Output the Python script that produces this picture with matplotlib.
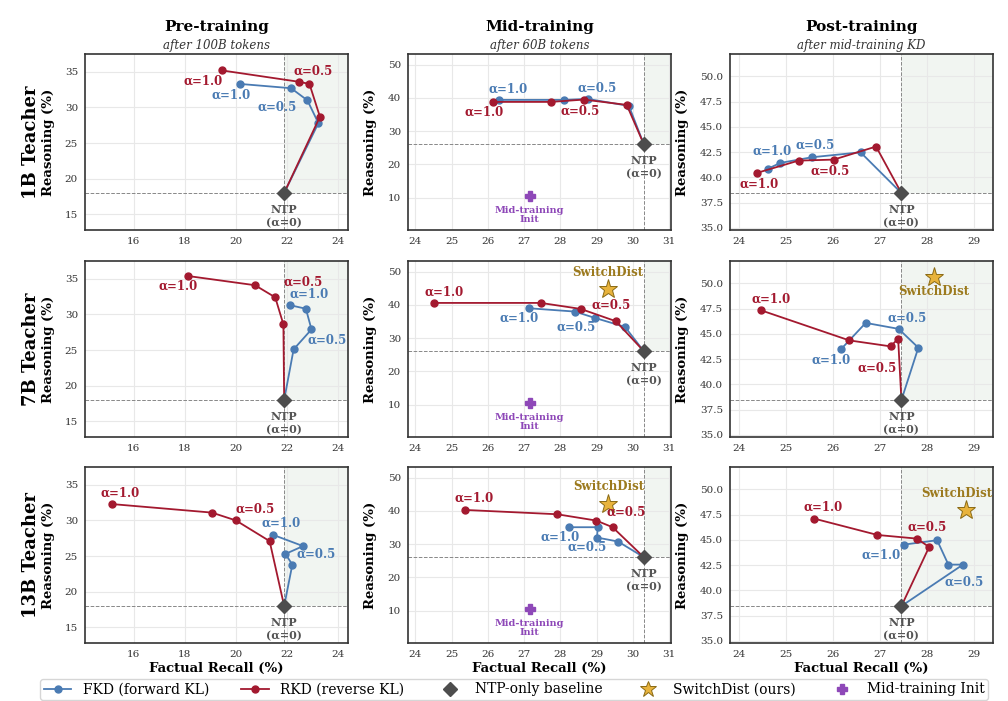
import matplotlib
matplotlib.use('Agg')
import matplotlib.pyplot as plt
from matplotlib.lines import Line2D

plt.rcParams['font.family'] = ['DejaVu Serif']

# --- data -------------------------------------------------------------
stages = ['Pre-training', 'Mid-training', 'Post-training']
stage_subs = ['after 100B tokens', 'after 60B tokens', 'after mid-training KD']
teachers = ['1B Teacher', '7B Teacher', '13B Teacher']

# NTP-only baseline per stage (factual recall, reasoning)
ntp_x = [21.9, 30.3, 27.45]
ntp_y = [18.0, 26.1, 38.45]

# mid-training init (shown only in mid-training column)
init_x = 27.15
init_y = 10.5

# fkd_x[teacher][stage]
fkd_x = [
    [[20.17, 22.17, 22.81, 23.24], [26.31, 28.11, 28.75, 29.89], [24.60, 24.87, 25.54, 26.58]],
    [[22.13, 22.75, 22.97, 22.27], [27.13, 28.40, 28.95, 29.78], [26.16, 26.69, 27.39, 27.81]],
    [[21.45, 22.64, 21.95, 22.22], [28.23, 29.03, 29.01, 29.59], [27.51, 28.21, 28.45, 28.76]],
]
fkd_y = [
    [[33.3, 32.7, 31.0, 27.8], [39.4, 39.4, 39.7, 37.6], [40.84, 41.43, 41.99, 42.48]],
    [[31.3, 30.8, 27.9, 25.1], [39.0, 38.0, 36.1, 33.4], [43.46, 46.08, 45.49, 43.63]],
    [[28.0, 26.4, 25.3, 23.8], [35.1, 35.1, 32.0, 30.8], [44.53, 44.96, 42.55, 42.55]],
]
rkd_x = [
    [[19.45, 22.48, 22.89, 23.30], [26.14, 27.74, 28.65, 29.83], [24.37, 25.26, 26.01, 26.91]],
    [[18.12, 20.76, 21.55, 21.87], [24.53, 27.46, 28.56, 29.53], [24.47, 26.34, 27.22, 27.38]],
    [[15.15, 19.07, 20.01, 21.33], [25.36, 27.91, 28.99, 29.44], [25.59, 26.94, 27.78, 28.04]],
]
rkd_y = [
    [[35.2, 33.6, 33.3, 28.7], [38.8, 38.8, 39.5, 37.9], [40.44, 41.66, 41.76, 43.05]],
    [[35.4, 34.1, 32.4, 28.6], [40.6, 40.6, 38.8, 35.1], [47.31, 44.35, 43.76, 44.52]],
    [[32.3, 31.1, 30.0, 27.1], [40.3, 39.0, 37.1, 35.1], [47.10, 45.48, 45.12, 44.29]],
]

# SwitchDist points (teacher, stage) -> (x, y)
switch_pts = {(1, 1): (29.30, 44.8), (1, 2): (28.15, 50.63),
              (2, 1): (29.32, 42.18), (2, 2): (28.83, 47.99)}

# --- annotation placement (data coords) -------------------------------
fkd_lab = [
    [[(19.84, 31.77), (21.63, 29.99)], [(26.56, 42.6), (29.0, 43.0)], [(24.70, 42.55), (25.61, 43.18)]],
    [[(22.87, 32.85), (23.59, 26.35)], [(26.87, 36.0), (28.43, 33.2)], [(25.96, 42.4), (27.58, 46.58)]],
    [[(21.80, 29.58), (23.15, 25.31)], [(27.98, 32.14), (28.75, 28.95)], [(27.01, 43.5), (28.79, 40.77)]],
]
rkd_lab = [
    [[(18.73, 33.74), (23.02, 35.04)], [(25.89, 35.8), (28.54, 36.0)], [(24.43, 39.36), (25.94, 40.64)]],
    [[(17.75, 33.9), (22.63, 34.5)], [(24.79, 43.9), (29.41, 39.8)], [(24.67, 48.4), (26.94, 41.6)]],
    [[(15.49, 33.88), (20.76, 31.54)], [(25.63, 43.77), (29.82, 39.56)], [(25.79, 48.25), (27.99, 46.21)]],
]
switch_lab = {(1, 1): (29.30, 49.6), (1, 2): (28.15, 49.2),
              (2, 1): (29.34, 47.2), (2, 2): (28.63, 49.57)}

xlims = [(14.1, 24.4), (23.8, 31.05), (23.8, 29.4)]
ylims = [(12.8, 37.5), (0.3, 53.2), (34.8, 52.2)]
xticks = [[16, 18, 20, 22, 24], list(range(24, 32)), list(range(24, 30))]
yticks = [[15, 20, 25, 30, 35], [10, 20, 30, 40, 50], [35.0, 37.5, 40.0, 42.5, 45.0, 47.5, 50.0]]

BLUE = '#4a7bb3'
RED = '#a3192f'
GRAY = '#4d4d4d'
GOLD = '#e8b33c'
GOLD_TXT = '#9c7a1e'
PURPLE = '#8e48b8'
SHADE = '#f1f5f1'

fig = plt.figure(figsize=(10.08, 7.01), dpi=100)
W, H = 1008, 701
lefts = [85, 408, 730]
tops = [54, 261, 467]
aw, ah = 263, 176

for r in range(3):
    for c in range(3):
        ax = fig.add_axes([lefts[c] / W, 1 - (tops[r] + ah) / H, aw / W, ah / H])
        x0, x1 = xlims[c]
        y0, y1 = ylims[c]
        ax.set_xlim(x0, x1)
        ax.set_ylim(y0, y1)
        ax.set_xticks(xticks[c])
        ax.set_yticks(yticks[c])
        if c == 2:
            ax.set_yticklabels(['%.1f' % v for v in yticks[c]])
        ax.grid(True, color='#e8e8e8', lw=0.8, zorder=0)
        ax.set_axisbelow(True)
        ax.tick_params(length=0, pad=5, labelsize=7.5, colors='#333333')
        for s in ax.spines.values():
            s.set_color('#333333')
            s.set_linewidth(1.2)

        nx, ny = ntp_x[c], ntp_y[c]
        ax.fill_between([nx, x1], ny, y1, color=SHADE, zorder=0.5, lw=0)
        ax.axhline(ny, color='#888888', ls='--', lw=0.7, zorder=1)
        ax.axvline(nx, color='#888888', ls='--', lw=0.7, zorder=1)

        fx = fkd_x[r][c] + [nx]
        fy = fkd_y[r][c] + [ny]
        rx = rkd_x[r][c] + [nx]
        ry = rkd_y[r][c] + [ny]
        n = len(fkd_x[r][c])
        ax.plot(fx, fy, '-o', color=BLUE, lw=1.3, ms=5, markevery=list(range(n)), zorder=3)
        ax.plot(rx, ry, '-o', color=RED, lw=1.3, ms=5, markevery=list(range(len(rkd_x[r][c]))), zorder=3)

        ax.plot([nx], [ny], 'D', color=GRAY, ms=7, zorder=5)
        ax.annotate('NTP\n(\u03b1=0)', (nx, ny), xytext=(0, -8), textcoords='offset points',
                    ha='center', va='top', fontsize=8, fontweight='bold', color='#555555',
                    linespacing=1.2, zorder=6)

        for (tx, ty), lab in zip(fkd_lab[r][c], ['\u03b1=1.0', '\u03b1=0.5']):
            ax.text(tx, ty, lab, color=BLUE, fontsize=8.5, fontweight='bold',
                    ha='center', va='center', zorder=6)
        for (tx, ty), lab in zip(rkd_lab[r][c], ['\u03b1=1.0', '\u03b1=0.5']):
            ax.text(tx, ty, lab, color=RED, fontsize=8.5, fontweight='bold',
                    ha='center', va='center', zorder=6)

        if c == 1:
            ax.plot([init_x], [init_y], 'P', color=PURPLE, ms=7, zorder=5)
            ax.annotate('Mid-training\nInit', (init_x, init_y), xytext=(0, -7),
                        textcoords='offset points', ha='center', va='top', fontsize=7,
                        fontweight='bold', color=PURPLE, linespacing=1.1)

        if (r, c) in switch_pts:
            sx, sy = switch_pts[(r, c)]
            ax.plot([sx], [sy], '*', ms=14, color=GOLD, mec='#8a6a14', mew=0.7, zorder=5)
            lx, ly = switch_lab[(r, c)]
            ax.text(lx, ly, 'SwitchDist', color=GOLD_TXT, fontsize=8.5, fontweight='bold',
                    ha='center', va='center', clip_on=True, zorder=6)

        ax.set_ylabel('Reasoning (%)', fontsize=9.5, fontweight='bold')
        ax.yaxis.set_label_coords([-0.114, -0.119, -0.156][c], 0.5)
        if r == 2:
            ax.set_xlabel('Factual Recall (%)', fontsize=9.5, fontweight='bold', labelpad=2)
        if r == 0:
            ax.text(0.5, 1.155, stages[c], transform=ax.transAxes, ha='center', va='center',
                    fontsize=11, fontweight='bold')
            ax.text(0.5, 1.05, stage_subs[c], transform=ax.transAxes, ha='center', va='center',
                    fontsize=8.5, style='italic', color='#333333')
        if c == 0:
            fig.text(31 / W, 1 - (tops[r] + ah / 2) / H, teachers[r], rotation=90,
                     ha='center', va='center', fontsize=13, fontweight='bold')

handles = [
    Line2D([], [], color=BLUE, marker='o', ms=5, lw=1.3),
    Line2D([], [], color=RED, marker='o', ms=5, lw=1.3),
    Line2D([], [], color=GRAY, marker='D', ms=7, lw=0),
    Line2D([], [], color=GOLD, marker='*', ms=12, mec='#8a6a14', mew=0.7, lw=0),
    Line2D([], [], color=PURPLE, marker='P', ms=7, lw=0),
]
labels = ['FKD (forward KL)', 'RKD (reverse KL)', 'NTP-only baseline',
          'SwitchDist (ours)', 'Mid-training Init']
fig.legend(handles, labels, loc='upper center', bbox_to_anchor=(0.51, 0.0315), ncol=5,
           fontsize=10, frameon=True, edgecolor='#cccccc', columnspacing=2.3,
           handlelength=2.0, borderpad=0.25, borderaxespad=0, fancybox=True)

fig.savefig('out.png', dpi=100)
